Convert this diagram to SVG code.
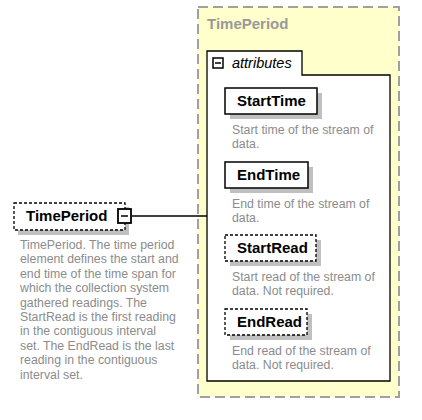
<svg xmlns="http://www.w3.org/2000/svg" width="422" height="420" viewBox="0 0 422 420">
<style>
.t{font-family:"Liberation Sans",Arial,sans-serif;}
.name{font-family:"Liberation Sans",Arial,sans-serif;font-weight:bold;font-size:15px;fill:#000;}
.desc{font-family:"Liberation Sans",Arial,sans-serif;font-size:12.3px;fill:#8c8c8c;}
.box{fill:#fff;stroke:#000;stroke-width:1.5;}
.dbox{fill:#fff;stroke:#000;stroke-width:1.3;stroke-dasharray:3,2;}
.shadow{fill:#c0c0c0;}
</style>
<rect width="422" height="420" fill="#fff"/>
<g id="TimePeriodType">
<rect x="198" y="7" width="201" height="390" fill="#ffffcc" stroke="#a0a0a0" stroke-width="2" stroke-dasharray="10,5"/>
<text class="t" x="207" y="29" font-size="15" font-weight="bold" fill="#999">TimePeriod</text>
</g>
<g id="attributes">
<path d="M207,51 H302 V75 H390 V381 H207 Z" fill="#fff" stroke="#000" stroke-width="1.3"/>
<rect x="213" y="58" width="10" height="10" fill="#fff" stroke="#000" stroke-width="1.5"/>
<line x1="215" y1="63" x2="221" y2="63" stroke="#000" stroke-width="1.5"/>
<text class="t" x="232" y="68" font-size="14.5" font-style="italic" fill="#000">attributes</text>
</g>
<g id="StartTime">
<rect class="shadow" x="230" y="93" width="92" height="26"/>
<rect class="box" x="225" y="88" width="92" height="26"/>
<text class="name" x="237" y="106">StartTime</text>
<text class="desc" x="232" y="134">Start time of the stream of</text>
<text class="desc" x="232" y="148">data.</text>
</g>
<g id="EndTime">
<rect class="shadow" x="230" y="167" width="83" height="26"/>
<rect class="box" x="225" y="162" width="83" height="26"/>
<text class="name" x="237" y="180">EndTime</text>
<text class="desc" x="232" y="208">End time of the stream of</text>
<text class="desc" x="232" y="222">data.</text>
</g>
<g id="StartRead">
<rect class="shadow" x="230" y="240" width="91" height="26"/>
<rect class="dbox" x="225" y="235" width="91" height="26"/>
<text class="name" x="237" y="253">StartRead</text>
<text class="desc" x="232" y="281">Start read of the stream of</text>
<text class="desc" x="232" y="295">data. Not required.</text>
</g>
<g id="EndRead">
<rect class="shadow" x="230" y="314" width="82" height="26"/>
<rect class="dbox" x="225" y="309" width="82" height="26"/>
<text class="name" x="237" y="327">EndRead</text>
<text class="desc" x="232" y="355">End read of the stream of</text>
<text class="desc" x="232" y="369">data. Not required.</text>
</g>
<g id="connectors">
<line x1="132" y1="216" x2="207" y2="216" stroke="#000" stroke-width="1.3"/>
</g>
<g id="TimePeriod">
<rect class="shadow" x="18" y="207" width="111" height="28"/>
<rect class="dbox" x="14" y="203" width="111" height="27"/>
<text class="name" x="26" y="221">TimePeriod</text>
<rect x="118" y="209" width="13" height="14" fill="#fff" stroke="#000" stroke-width="1.8"/>
<line x1="121" y1="216" x2="128" y2="216" stroke="#000" stroke-width="1.5"/>
<text class="desc"><tspan x="20" y="249">TimePeriod. The time period</tspan><tspan x="20" y="263.4">element defines the start and</tspan><tspan x="20" y="277.8">end time of the time span for</tspan><tspan x="20" y="292.2">which the collection system</tspan><tspan x="20" y="306.6">gathered readings. The</tspan><tspan x="20" y="321">StartRead is the first reading</tspan><tspan x="20" y="335.4">in the contiguous interval</tspan><tspan x="20" y="349.8">set. The EndRead is the last</tspan><tspan x="20" y="364.2">reading in the contiguous</tspan><tspan x="20" y="378.6">interval set.</tspan></text>
</g>
</svg>
